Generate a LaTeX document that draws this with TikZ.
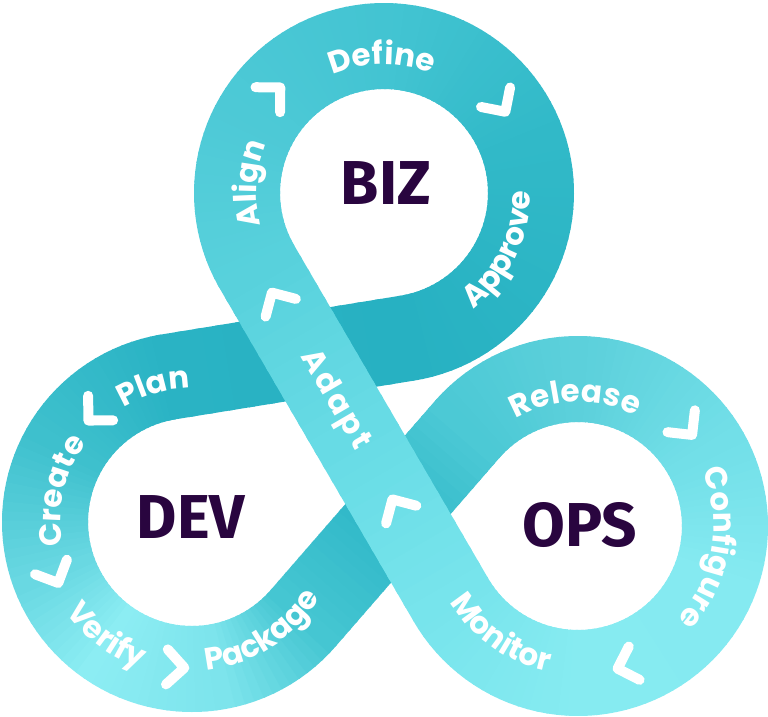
\documentclass[tikz,border=0pt]{standalone}
\usepackage{fontspec}
\usetikzlibrary{decorations.text,calc}
\newfontfamily\bandfont{Poppins Bold}[LetterSpace=9]
\newfontfamily\hubfont{Fira Sans}
\definecolor{hubtext}{HTML}{29053F}
\tikzset{
  band/.style={line width=86pt},
  chev/.style={draw=white, line width=10pt, line cap=round, line join=round},
  hub/.style={font=\hubfont\bfseries\fontsize{62}{70}\selectfont, text=hubtext, inner sep=0pt},
  bandtxt/.style={font=\bandfont\fontsize{31}{36}\selectfont, text=white, inner sep=0pt}
}
\newcommand\bandarc[6]{%
  \foreach \k in {1,...,#6}{%
    \pgfmathsetmacro\angA{#2+(#3-#2)*(\k-1)/#6}%
    \pgfmathsetmacro\angB{#2+(#3-#2)*(\k+0.3)/#6}%
    \pgfmathtruncatemacro\pct{100*(\k-1)/(#6-1)}%
    \draw[band, draw=#5!\pct!#4] ($(#1)+(\angA:147)$) arc[start angle=\angA, end angle=\angB, radius=147];
  }%
}
\newcommand\bandline[6]{%
  \foreach \k in {1,...,12}{%
    \pgfmathsetmacro\sA{#3+(#4-#3)*(\k-1)/12}%
    \pgfmathsetmacro\sB{#3+(#4-#3)*(\k+0.3)/12}%
    \pgfmathtruncatemacro\pct{100*(\k-1)/11}%
    \draw[band, draw=#6!\pct!#5] ($(#1)!\sA!(#2)$) -- ($(#1)!\sB!(#2)$);
  }%
}
\newcommand\arclabel[5]{%
  \path[decorate, decoration={text along path, text align=center, text color=white,
     text={|\bandfont\fontsize{31}{36}\selectfont|#5}}]
     ($(#1)+(#3:#2)$) arc[start angle=#3, end angle=#4, radius=#2];
}
\newcommand\chevron[2]{%
  \draw[chev, shift={(#1)}, rotate=#2] (-17.5,17.5) -- (0,0) -- (-17.5,-17.5);
}
\definecolor{cA}{HTML}{58D1DC}
\definecolor{cB}{HTML}{4DC9D6}
\definecolor{cC}{HTML}{43C4D2}
\definecolor{cD}{HTML}{31B9C8}
\definecolor{cE}{HTML}{27B1C2}
\definecolor{cF}{HTML}{2AB3C4}
\definecolor{cG}{HTML}{3EC0CD}
\definecolor{cH}{HTML}{69D8E2}
\definecolor{cI}{HTML}{8CEDF3}
\definecolor{cJ}{HTML}{7DE4EC}
\definecolor{cK}{HTML}{45C6D2}
\definecolor{cL}{HTML}{30B8C8}
\definecolor{cM}{HTML}{4CC9D5}
\definecolor{cN}{HTML}{5CD0DB}
\definecolor{cO}{HTML}{72DFE8}
\definecolor{cP}{HTML}{85EAF1}
\definecolor{cQ}{HTML}{86EBF1}
\definecolor{cR}{HTML}{77E4EC}
\definecolor{cS}{HTML}{77E4EC}
\definecolor{cU}{HTML}{67DBE5}
\definecolor{cT}{HTML}{58D1DC}
\begin{document}
\begin{tikzpicture}[x=1pt,y=1pt]
\useasboundingbox (0,0) rectangle (768,716);
\coordinate (B) at (384,523);
\coordinate (D) at (192,194);
\coordinate (O) at (578,190);
\coordinate (E1) at ($(B)+(-80.79:147)$);
\coordinate (D1) at ($(D)+(99.21:147)$);
\coordinate (D2) at ($(D)+(-40.98:147)$);
\coordinate (O1) at ($(O)+(139.02:147)$);
\coordinate (A0) at ($(O)+(210.22:147)$);
\coordinate (A1) at ($(B)+(210.22:147)$);
% lower straight bands
\bandline{E1}{D1}{0}{1}{cE}{cF}
\bandline{D2}{O1}{0}{0.5}{cK}{cL}
\bandline{D2}{O1}{0.5}{1}{cL}{cM}
% BIZ loop
\bandarc{B}{210.22}{150}{cA}{cB}{20}
\bandarc{B}{150}{90}{cB}{cC}{20}
\bandarc{B}{90}{20}{cC}{cD}{23}
\bandarc{B}{20}{-80.79}{cD}{cE}{33}
% DEV loop
\bandarc{D}{99.21}{150}{cF}{cG}{17}
\bandarc{D}{150}{200}{cG}{cH}{17}
\bandarc{D}{200}{235}{cH}{cI}{12}
\bandarc{D}{235}{280}{cI}{cJ}{15}
\bandarc{D}{280}{319.02}{cJ}{cK}{13}
% OPS loop
\bandarc{O}{139.02}{90}{cM}{cN}{16}
\bandarc{O}{90}{30}{cN}{cO}{20}
\bandarc{O}{30}{-20}{cO}{cP}{17}
\bandarc{O}{-20}{-90}{cP}{cQ}{23}
\bandarc{O}{-90}{-149.78}{cQ}{cR}{20}
% Adapt strip on top
\bandline{A0}{A1}{0}{0.5}{cS}{cU}
\bandline{A0}{A1}{0.5}{1}{cU}{cT}
% labels along the loops
\arclabel{B}{128.5}{150.8}{30.8}{Define}
\arclabel{B}{146.5}{-86}{34}{Approve}
\arclabel{B}{127.5}{236}{116}{Align}
\arclabel{D}{133.5}{165.9}{45.9}{Plan}
\arclabel{D}{131.5}{226.8}{106.8}{Create}
\arclabel{D}{155}{173}{293}{Verify}
\arclabel{D}{148.5}{-117.6}{2.4}{Package}
\arclabel{O}{124}{151.3}{31.3}{Release}
\arclabel{O}{135.5}{50.4}{-69.6}{Configure}
\arclabel{O}{148.5}{174.6}{294.6}{Monitor}
\node[bandtxt, rotate=-59.78] (adapt) at ($(A0)!0.6!(A1)$) {Adapt};
% chevrons
\coordinate (k1) at ($(B)+(134.5:148)$);
\coordinate (k2) at ($(B)+(33.8:146)$);
\coordinate (k3) at ($(A0)!0.923!(A1)$);
\coordinate (k4) at ($(A0)!0.302!(A1)$);
\coordinate (k5) at ($(D)+(135.6:145)$);
\coordinate (k6) at ($(D)+(204.5:147)$);
\coordinate (k7) at ($(D)+(267:146)$);
\coordinate (k8) at ($(O)+(38.6:146)$);
\coordinate (k9) at ($(O)+(-74.5:148)$);
\chevron{k1}{44.5}
\chevron{k2}{-56.2}
\chevron{k3}{120.22}
\chevron{k4}{120.22}
\chevron{k5}{225.6}
\chevron{k6}{294.5}
\chevron{k7}{357}
\chevron{k8}{-51.4}
\chevron{k9}{198}
% hub labels
\node[hub, anchor=base] (biz) at (386,511) {BIZ};
\node[hub, anchor=base] (dev) at (191,178) {DEV};
\node[hub, anchor=base] (ops) at (579.5,169.5) {OPS};
\end{tikzpicture}
\end{document}
